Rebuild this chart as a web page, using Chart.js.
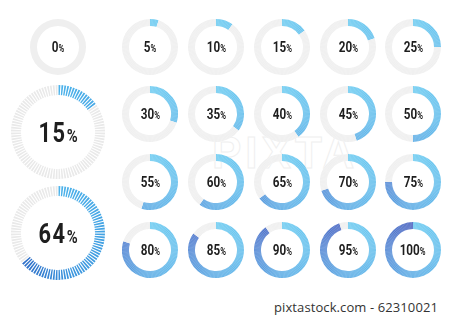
<!DOCTYPE html>
<html>
<head>
<meta charset="utf-8">
<script src="https://cdn.jsdelivr.net/npm/chart.js@4/dist/chart.umd.min.js"></script>
<style>
  html, body { margin: 0; padding: 0; background: #ffffff; }
  #stage { position: relative; width: 450px; height: 317px; overflow: hidden; background: #fff; }
  canvas { position: absolute; }
  .lbl { position: absolute; display: flex; align-items: center; justify-content: center; }
  .txt { display: inline-flex; align-items: baseline; font-family: "Roboto", sans-serif; font-weight: 700;
         color: #1e1e1e; white-space: nowrap; transform: scaleX(0.78); }
  #footer { position: absolute; left: 274px; top: 298px; font-family: "Open Sans", sans-serif;
            font-size: 13px; color: #333; letter-spacing: 0.1px; }
  #wm { position: absolute; left: 212px; top: 128px; font-family: "Liberation Sans", sans-serif;
        font-size: 44px; font-weight: bold; color: transparent; -webkit-text-stroke: 1px #efefef; letter-spacing: 4px; }
</style>
</head>
<body>
<div id="stage">
  <div id="wm">PIXTA</div>
  <div id="footer">pixtastock.com - 62310021</div>
</div>
<script>
// ---- data ----
const smallValues = [5, 10, 15, 20, 25, 30, 35, 40, 45, 50, 55, 60, 65, 70, 75, 80, 85, 90, 95, 100];
const smallLabels = ["5", "10", "15", "20", "25", "30", "35", "40", "45", "50", "55", "60", "65", "70", "75", "80", "85", "90", "95", "100"];
const leftValues = [0, 15, 64];
const leftLabels = ["0", "15", "64"];
const total = 100;

// ---- layout / style (not data) ----
const colX = [150, 216, 282, 348, 413];
const rowY = [47, 114, 182, 250];
const leftCenters = [[58, 47], [58, 132], [58, 233]];
const stage = document.getElementById('stage');

const smallStops = [[0, '#6ccbf1'], [0.3, '#64bdec'], [0.55, '#5ca9e4'], [0.78, '#5384d3'], [1, '#4a62c0']];
const bigStops = [[0, '#4cb2ea'], [0.45, '#3c96de'], [0.62, '#2f72ca'], [1, '#2a56ba']];

function makeGradient(chart, stops) {
  const a = chart.chartArea;
  if (!a) return stops[0][1];
  const cx = (a.left + a.right) / 2, cy = (a.top + a.bottom) / 2;
  const g = chart.ctx.createConicGradient(-Math.PI / 2, cx, cy);
  stops.forEach(s => g.addColorStop(s[0], s[1]));
  return g;
}

const stripePlugin = {
  id: 'stripes',
  afterDatasetsDraw(chart, args, opts) {
    if (!opts || !opts.count) return;
    const meta = chart.getDatasetMeta(0);
    const arc = meta.data[0];
    if (!arc) return;
    const { x, y, innerRadius, outerRadius } = arc.getProps(['x', 'y', 'innerRadius', 'outerRadius'], true);
    const c = chart.ctx;
    c.save();
    c.strokeStyle = opts.color;
    c.lineWidth = opts.width;
    for (let i = 0; i < opts.count; i++) {
      const ang = -Math.PI / 2 + i * 2 * Math.PI / opts.count;
      c.beginPath();
      c.moveTo(x + Math.cos(ang) * (innerRadius - 1), y + Math.sin(ang) * (innerRadius - 1));
      c.lineTo(x + Math.cos(ang) * (outerRadius + 1), y + Math.sin(ang) * (outerRadius + 1));
      c.stroke();
    }
    c.restore();
  }
};

function addDonut(cx, cy, size, cutout, value, label, big, grey, stops, stripes) {
  const cv = document.createElement('canvas');
  cv.width = size; cv.height = size;
  cv.style.left = (cx - size / 2) + 'px';
  cv.style.top = (cy - size / 2) + 'px';
  cv.style.width = size + 'px'; cv.style.height = size + 'px';
  stage.appendChild(cv);
  new Chart(cv, {
    type: 'doughnut',
    data: {
      labels: ['done', 'rest'],
      datasets: [{
        data: [value, total - value],
        backgroundColor: (ctx) => ctx.dataIndex === 0 ? makeGradient(ctx.chart, stops) : grey,
        borderWidth: 0,
        hoverOffset: 0
      }]
    },
    options: {
      responsive: false,
      animation: false,
      devicePixelRatio: 1,
      cutout: cutout,
      layout: { padding: 0 },
      plugins: { legend: { display: false }, tooltip: { enabled: false }, stripes: stripes }
    },
    plugins: [stripePlugin]
  });
  const d = document.createElement('div');
  d.className = 'lbl';
  d.style.left = (cx - 40) + 'px';
  d.style.top = (cy - 20) + 'px';
  d.style.width = '80px';
  d.style.height = '40px';
  const numSize = big ? 28 : 15;
  const pcSize = big ? 19 : 10;
  d.innerHTML = '<span class="txt"><span style="font-size:' + numSize + 'px;letter-spacing:' + (big ? 2 : 0) + 'px">' + label +
    '</span><span style="font-size:' + pcSize + 'px">%</span></span>';
  stage.appendChild(d);
}

// small grid
smallValues.forEach((v, i) => {
  const col = i % 5, row = Math.floor(i / 5);
  addDonut(colX[col], rowY[row], 56, 21, v, smallLabels[i], false, '#efefef', smallStops,
    { count: 120, color: 'rgba(255,255,255,0.35)', width: 0.6 });
});

// left column
addDonut(leftCenters[0][0], leftCenters[0][1], 56, 21, leftValues[0], leftLabels[0], false, '#efefef', smallStops,
  { count: 0 });
addDonut(leftCenters[1][0], leftCenters[1][1], 94, 37, leftValues[1], leftLabels[1], true, '#e9e9e9', bigStops,
  { count: 100, color: '#ffffff', width: 1.1 });
addDonut(leftCenters[2][0], leftCenters[2][1], 94, 37, leftValues[2], leftLabels[2], true, '#e9e9e9', bigStops,
  { count: 100, color: '#ffffff', width: 1.1 });
</script>
</body>
</html>
